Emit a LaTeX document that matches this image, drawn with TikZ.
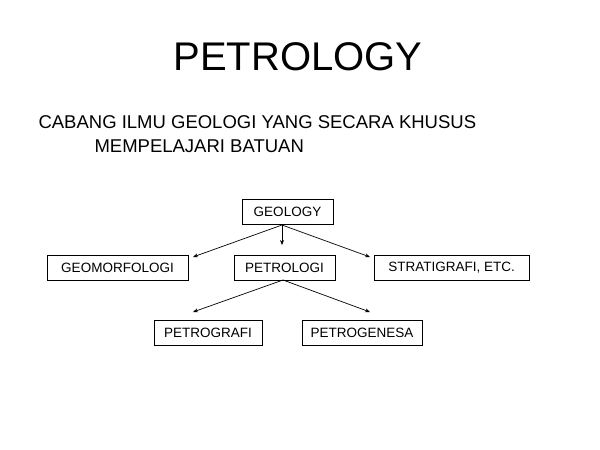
\documentclass[tikz,border=0pt]{standalone}
\usepackage{fontspec}
\setmainfont{Liberation Sans}
\usetikzlibrary{arrows.meta}
\begin{document}
\begin{tikzpicture}[x=1pt,y=-1pt,
  box/.style={draw,line width=0.8pt,inner sep=0pt,minimum height=25pt,font=\fontsize{13.5}{15}\selectfont},
  arr/.style={-{Stealth[length=5pt,width=4pt]},line width=0.7pt}]
\useasboundingbox (0,0) rectangle (600,450);
\node[font=\fontsize{40}{44}\selectfont] (title) at (298,57) {PETROLOGY};
\node[anchor=west,font=\fontsize{18.5}{22}\selectfont] (sub1) at (35,122) {CABANG ILMU GEOLOGI YANG SECARA KHUSUS};
\node[anchor=west,font=\fontsize{18.5}{22}\selectfont] (sub2) at (91,146) {MEMPELAJARI BATUAN};
\node[box,minimum width=91pt] (geo) at (287.5,212) {GEOLOGY};
\node[box,minimum width=141pt] (gm) at (117.5,267.5) {GEOMORFOLOGI};
\node[box,minimum width=101pt] (pl) at (284.5,267.5) {PETROLOGI};
\node[box,minimum width=155pt] (st) at (451.5,267.5) {STRATIGRAFI, ETC.};
\node[box,minimum width=108pt] (pg) at (208,332.5) {PETROGRAFI};
\node[box,minimum width=120pt] (pn) at (362,332.5) {PETROGENESA};
\coordinate (g0) at (282,225);
\coordinate (t1) at (193,257);
\coordinate (t2) at (282,245);
\coordinate (t3) at (370,257);
\coordinate (p0) at (283,280);
\coordinate (t4) at (193,312);
\coordinate (t5) at (370,312);
\draw[arr] (g0) -- (t1);
\draw[arr] (g0) -- (t2);
\draw[arr] (g0) -- (t3);
\draw[arr] (p0) -- (t4);
\draw[arr] (p0) -- (t5);
\end{tikzpicture}
\end{document}
